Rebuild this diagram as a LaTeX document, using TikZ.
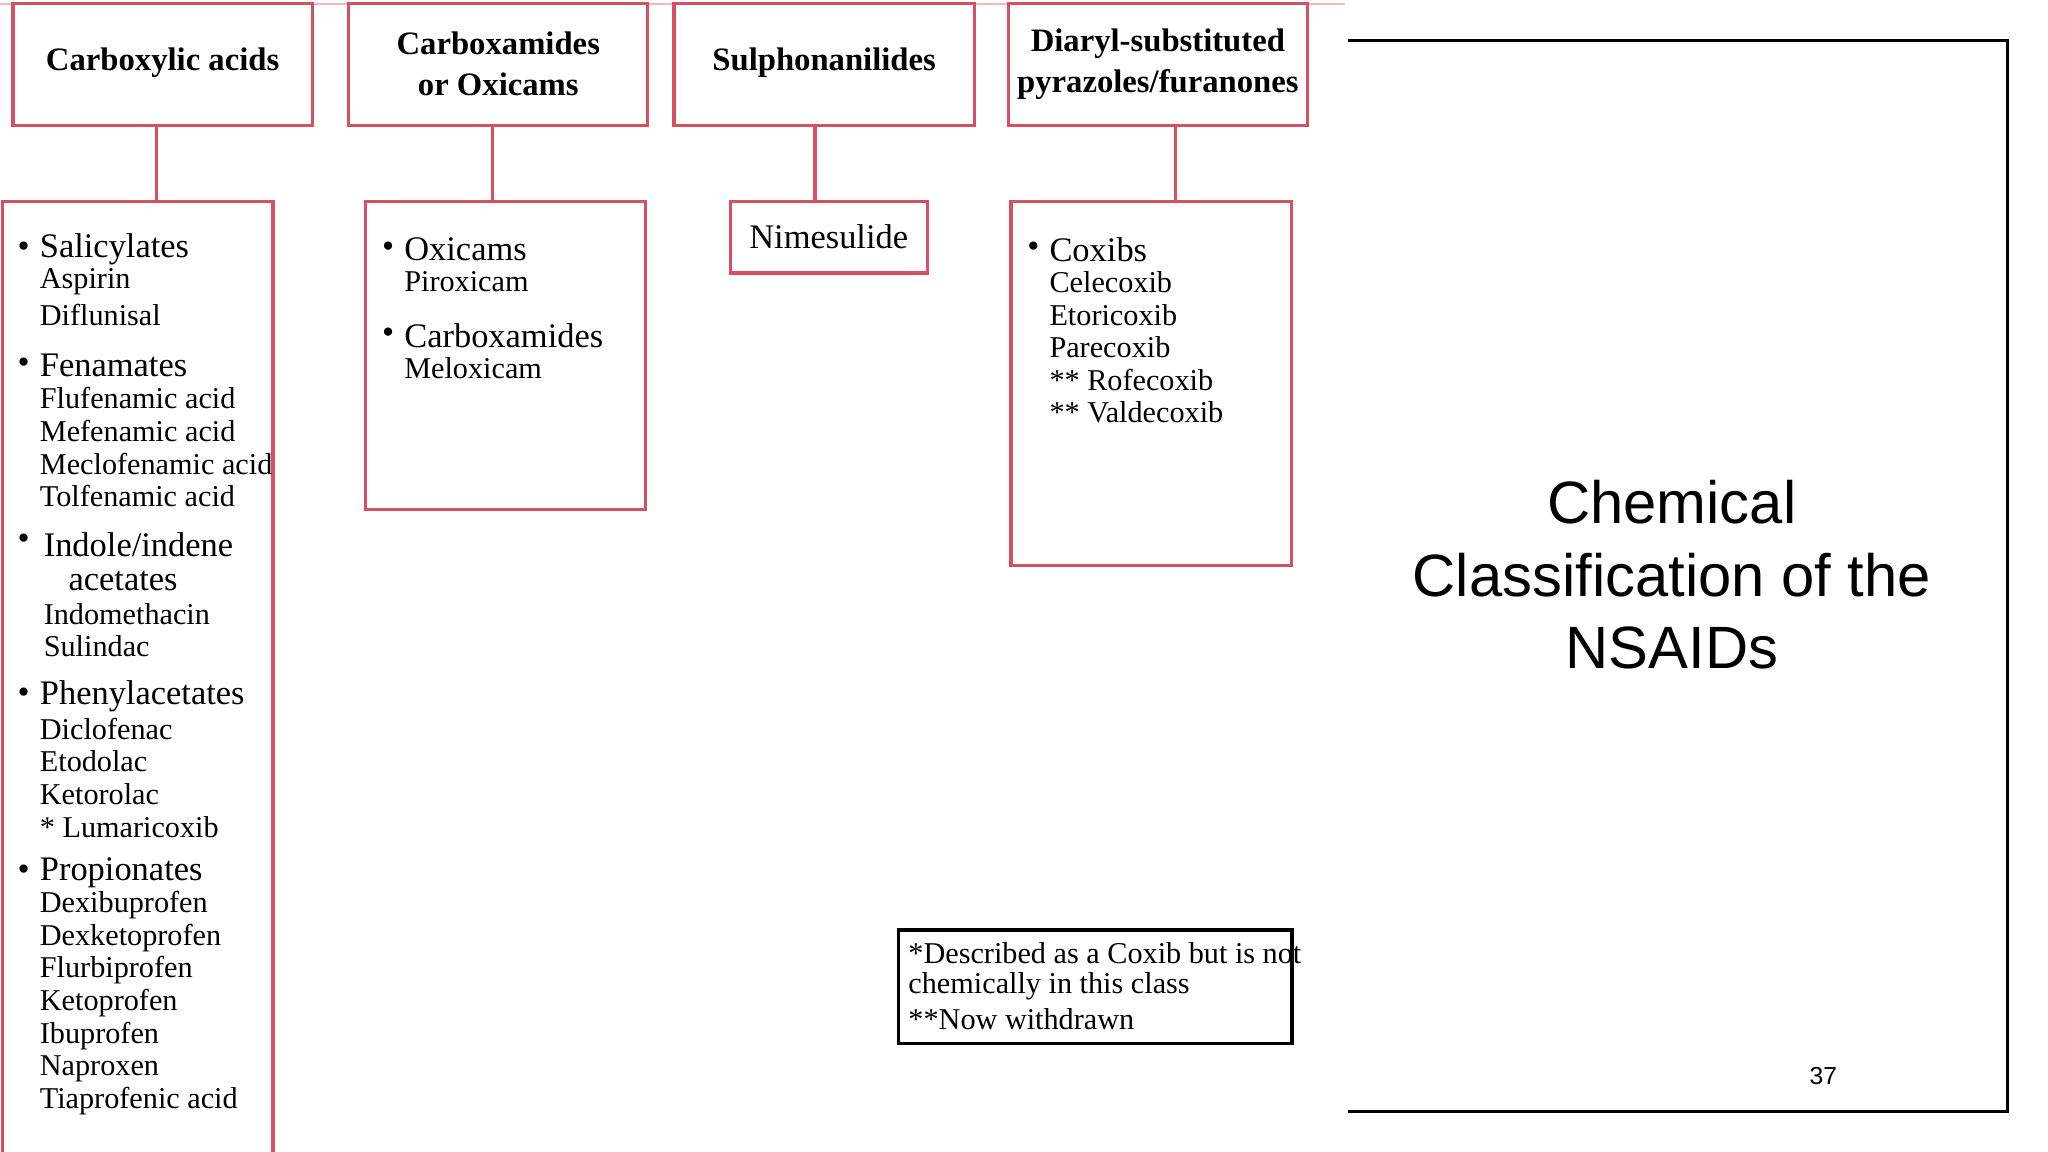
\documentclass[tikz,border=0pt]{standalone}
\usepackage{fontspec}
\setmainfont{Liberation Serif}
\newfontfamily\arialf{Liberation Sans}
\definecolor{rb}{RGB}{214,80,96}
\tikzset{x=0.01306cm,y=-0.01306cm,
 rbox/.style={draw=rb,line width=0.9pt},
 sub/.style={anchor=west,inner sep=0pt,font=\fontsize{8.6}{10}\selectfont},
 itm/.style={anchor=west,inner sep=0pt,font=\fontsize{9.8}{11}\selectfont},
 hdr/.style={align=center,inner sep=0pt,font=\bfseries\fontsize{9.3}{11.5}\selectfont},
 conn/.style={draw=rb,line width=0.9pt}}
\newcommand\Sb[3]{\node[sub] (#1) at (#2) {#3};}
\newcommand\It[3]{\node[itm] (#1) at (#2) {#3};}
\begin{document}
\begin{tikzpicture}
\useasboundingbox (0,0) rectangle (1568,882);
\draw[rb!40,line width=0.6pt] (0,3) -- (1030,3);
% top boxes
\draw[rbox] (10,3) rectangle (239,96);
\draw[rbox] (267,3) rectangle (496,96);
\draw[rbox] (516,3) rectangle (746,96);
\draw[rbox] (772,3) rectangle (1001,96);
\node[hdr] (h1) at (124.5,48) {Carboxylic acids};
\node[hdr] (h2) at (381.5,49) {Carboxamides\\or Oxicams};
\node[hdr] (h3) at (631,48) {Sulphonanilides};
\node[hdr] (h4) at (886.5,49) {Diaryl-substituted\\pyrazoles/furanones};
\coordinate (t1) at (120,96); \coordinate (b1) at (120,154);
\coordinate (t2) at (377,96); \coordinate (b2) at (377,154);
\coordinate (t3) at (624,96); \coordinate (b3) at (624,154);
\coordinate (t4) at (900,96); \coordinate (b4) at (900,154);
\foreach \i in {1,...,4} \draw[conn] (t\i) -- (b\i);
% lower boxes
\draw[rbox] (2,882) -- (2,154) -- (209,154) -- (209,882);
\draw[rbox] (280,154) rectangle (494,390);
\draw[rbox] (559,154) rectangle (710,209);
\draw[rbox] (774,154) rectangle (989,433);
\draw[line width=1pt] (688,712) rectangle (989,799);
% left list
\foreach \y in {191,280,415,533,668} \node[itm] at (13,\y) {•};
\It{a1}{30,191}{Salicylates}
\Sb{a2}{30,216}{Aspirin}
\Sb{a3}{30,241}{Diflunisal}
\It{a4}{30,280}{Fenamates}
\Sb{a5}{30,305}{Flufenamic acid}
\Sb{a6}{30,330}{Mefenamic acid}
\Sb{a7}{30,355}{Meclofenamic acid}
\Sb{a8}{30,380}{Tolfenamic acid}
\It{a9}{33,417}{Indole/indene}
\It{a10}{52,445}{acetates}
\Sb{a11}{33,470}{Indomethacin}
\Sb{a12}{33,495}{Sulindac}
\It{a13}{30,533}{Phenylacetates}
\Sb{a14}{30,558}{Diclofenac}
\Sb{a15}{30,583}{Etodolac}
\Sb{a16}{30,608}{Ketorolac}
\Sb{a17}{30,633}{* Lumaricoxib}
\It{a18}{30,668}{Propionates}
\Sb{a19}{30,693}{Dexibuprofen}
\Sb{a20}{30,718}{Dexketoprofen}
\Sb{a21}{30,743}{Flurbiprofen}
\Sb{a22}{30,768}{Ketoprofen}
\Sb{a23}{30,793}{Ibuprofen}
\Sb{a24}{30,818}{Naproxen}
\Sb{a25}{30,843}{Tiaprofenic acid}
% oxicams
\foreach \y in {191,257} \node[itm] at (292,\y) {•};
\It{o1}{309,191}{Oxicams}
\Sb{o2}{309,216}{Piroxicam}
\It{o3}{309,257}{Carboxamides}
\Sb{o4}{309,282}{Meloxicam}
\node[itm,anchor=center] (n1) at (634.5,181) {Nimesulide};
% coxibs
\node[itm] at (786,191) {•};
\It{c1}{803,191}{Coxibs}
\Sb{c2}{803,216}{Celecoxib}
\Sb{c3}{803,241}{Etoricoxib}
\Sb{c4}{803,266}{Parecoxib}
\Sb{c5}{803,291}{** Rofecoxib}
\Sb{c6}{803,316}{** Valdecoxib}
% footnote
\Sb{f1}{695,730}{*Described as a Coxib but is not}
\Sb{f2}{695,755}{chemically in this class}
\Sb{f3}{695,780}{**Now withdrawn}
% right panel
\draw[line width=0.8pt] (1032,31) -- (1537,31) -- (1537,851) -- (1032,851);
\node[align=center,font=\arialf\fontsize{17}{20.6}\selectfont] (title) at (1280,440) {Chemical\\Classification of the\\NSAIDs};
\node[font=\arialf\fontsize{7}{8}\selectfont] (pg) at (1396,824) {37};
\end{tikzpicture}
\end{document}
